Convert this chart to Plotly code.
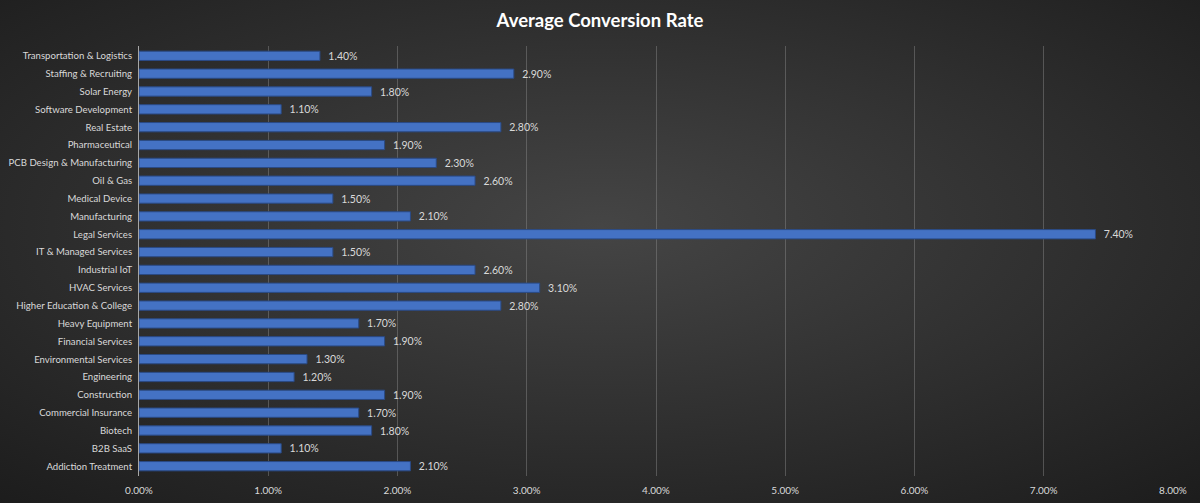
import plotly.graph_objects as go
import urllib.parse

categories = ["Addiction Treatment", "B2B SaaS", "Biotech", "Commercial Insurance", "Construction",
              "Engineering", "Environmental Services", "Financial Services", "Heavy Equipment",
              "Higher Education & College", "HVAC Services", "Industrial IoT", "IT & Managed Services",
              "Legal Services", "Manufacturing", "Medical Device", "Oil & Gas",
              "PCB Design & Manufacturing", "Pharmaceutical", "Real Estate", "Software Development",
              "Solar Energy", "Staffing & Recruiting", "Transportation & Logistics"]
values = [2.1, 1.1, 1.8, 1.7, 1.9, 1.2, 1.3, 1.9, 1.7, 2.8, 3.1, 2.6, 1.5, 7.4, 2.1, 1.5, 2.6,
          2.3, 1.9, 2.8, 1.1, 1.8, 2.9, 1.4]
tick_vals = [0, 1, 2, 3, 4, 5, 6, 7, 8]
tick_text = ["0.00%", "1.00%", "2.00%", "3.00%", "4.00%", "5.00%", "6.00%", "7.00%", "8.00%"]

font = "Lato, 'Open Sans', sans-serif"

svg = ('<svg xmlns="http://www.w3.org/2000/svg" width="1200" height="503">'
       '<defs><radialGradient id="g" cx="50%" cy="45%" r="75%">'
       '<stop offset="0%" stop-color="#454545"/><stop offset="100%" stop-color="#1c1c1c"/>'
       '</radialGradient></defs><rect width="1200" height="503" fill="url(#g)"/></svg>')
bg_uri = "data:image/svg+xml;charset=utf-8," + urllib.parse.quote(svg)

fig = go.Figure()
fig.add_trace(go.Bar(
    y=categories, x=values, orientation="h",
    marker=dict(color="#4472C4", line=dict(color="#2a4a85", width=1)),
    text=["  " + f"{v:.2f}%" for v in values], textposition="outside",
    textfont=dict(color="#d9d9d9", size=10.5, family=font), constraintext="none",
    cliponaxis=False, hoverinfo="skip"))

fig.update_layout(
    width=1200, height=503,
    margin=dict(l=139, r=27, t=46, b=27, autoexpand=False),
    paper_bgcolor="#2b2b2b", plot_bgcolor="rgba(0,0,0,0)",
    bargap=0.48, showlegend=False, uniformtext=dict(mode=False),
    title=dict(text="<b>Average Conversion Rate</b>", x=0.5, xanchor="center", y=0.96, yanchor="middle",
               font=dict(color="white", size=18.5, family=font)),
    xaxis=dict(range=[0, 8], tickvals=tick_vals, ticktext=tick_text, showgrid=True, automargin=False,
               gridcolor="rgba(140,140,140,0.45)", gridwidth=1, zeroline=False,
               tickfont=dict(color="#d9d9d9", size=10, family=font), ticks="outside", ticklen=5,
               tickcolor="rgba(0,0,0,0)", showline=False),
    yaxis=dict(categoryorder="array", categoryarray=categories, range=[-0.55, 23.55], automargin=False,
               tickfont=dict(color="#d9d9d9", size=9.6, family=font), ticks="outside", ticklen=4,
               tickcolor="rgba(0,0,0,0)",
               showline=True, linecolor="#a6a6a6", linewidth=1, showgrid=False),
)
fig.update_layout(images=[dict(source=bg_uri, xref="paper", yref="paper", x=-139/1034, y=1+46/430,
                               sizex=1200/1034, sizey=503/430, xanchor="left", yanchor="top",
                               layer="below", sizing="stretch")])
fig.write_html("out.html")
